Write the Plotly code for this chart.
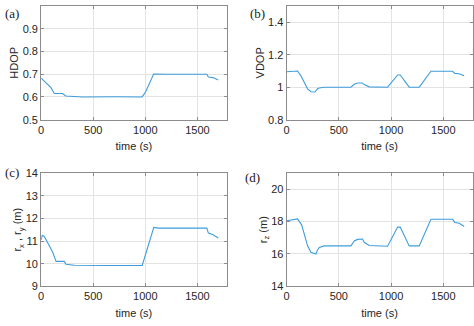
import plotly.graph_objects as go
from plotly.subplots import make_subplots

# (a) HDOP
t_a = [0, 20, 46, 94, 126, 205, 237, 300, 400, 700, 968, 1000, 1080, 1200, 1590, 1605, 1650, 1700]
hdop = [0.683, 0.675, 0.662, 0.641, 0.615, 0.615, 0.604, 0.602, 0.600, 0.601, 0.600, 0.620, 0.701, 0.700, 0.700, 0.688, 0.685, 0.675]

# (b) VDOP
t_b = [0, 89, 105, 137, 169, 201, 233, 271, 297, 313, 360, 616, 648, 680, 727, 743, 791, 967, 1063, 1088, 1174, 1270, 1382, 1509, 1589, 1611, 1653, 1700]
vdop = [1.095, 1.098, 1.100, 1.070, 1.026, 0.990, 0.972, 0.970, 0.990, 0.995, 1.000, 1.000, 1.018, 1.026, 1.026, 1.016, 1.002, 1.000, 1.075, 1.075, 1.000, 1.000, 1.098, 1.100, 1.098, 1.085, 1.083, 1.070]

# (c) r_x, r_y
t_c = [0, 10, 30, 80, 111, 143, 222, 238, 318, 600, 970, 1081, 1129, 1590, 1605, 1650, 1700]
rxy = [11.05, 11.25, 11.2, 10.8, 10.5, 10.1, 10.1, 9.97, 9.93, 9.92, 9.92, 11.6, 11.57, 11.57, 11.35, 11.28, 11.13]

# (d) r_z
t_d = [0, 89, 105, 144, 169, 201, 233, 265, 281, 297, 313, 360, 616, 648, 680, 727, 743, 791, 967, 1063, 1088, 1174, 1270, 1382, 1589, 1611, 1653, 1700]
rz = [18.05, 18.15, 18.17, 17.8, 17.2, 16.5, 16.1, 16.0, 16.0, 16.25, 16.4, 16.5, 16.5, 16.8, 16.9, 16.92, 16.72, 16.52, 16.48, 17.66, 17.66, 16.5, 16.5, 18.15, 18.15, 17.95, 17.9, 17.7]

panel_labels = ["(a)", "(b)", "(c)", "(d)"]
y_titles = ["HDOP", "VDOP", "r<sub>x</sub> , r<sub>y</sub> (m)", "r<sub>z</sub> (m)"]
x_title = "time (s)"

W, H = 474, 326
LINE = "#3f9ddb"
FONT = "Arial, Liberation Sans, sans-serif"

fig = make_subplots(rows=2, cols=2)
series = [(t_a, hdop), (t_b, vdop), (t_c, rxy), (t_d, rz)]
pos = [(1, 1), (1, 2), (2, 1), (2, 2)]
for (tx, ty), (r, c) in zip(series, pos):
    fig.add_trace(go.Scatter(x=tx, y=ty, mode="lines", line=dict(color=LINE, width=1.1),
                             showlegend=False), row=r, col=c)

xdom_l = [38.5 / W, 225.5 / W]
xdom_r = [286 / W, 473.5 / W]
ydom_t = [1 - 118 / H, 1.0]
ydom_b = [1 - 291 / H, 1 - 173.5 / H]

axis_common = dict(
    showline=True, linecolor="#8c8c8c", linewidth=1, mirror="ticks",
    ticks="inside", ticklen=3, tickcolor="#8c8c8c",
    showgrid=True, gridcolor="#e3e3e3", gridwidth=1, zeroline=False,
    tickfont=dict(family=FONT, size=11, color="#262626"),
)

xdoms = [xdom_l, xdom_r, xdom_l, xdom_r]
ydoms = [ydom_t, ydom_t, ydom_b, ydom_b]
yranges = [[0.5, 1.0], [0.8, 1.5], [9, 14], [14, 21]]
ytickvals = [[0.5, 0.6, 0.7, 0.8, 0.9], [0.8, 1.0, 1.2, 1.4], [9, 10, 11, 12, 13, 14], [14, 16, 18, 20]]
yticktext = [["0.5", "0.6", "0.7", "0.8", "0.9"], ["0.8", "1", "1.2", "1.4"], ["9", "10", "11", "12", "13", "14"], ["14", "16", "18", "20"]]

for i in range(4):
    xa = "xaxis" if i == 0 else f"xaxis{i+1}"
    ya = "yaxis" if i == 0 else f"yaxis{i+1}"
    fig.layout[xa].update(domain=xdoms[i], range=[0, 1780], tickvals=[0, 500, 1000, 1500],
                          title=dict(text=x_title, font=dict(family=FONT, size=11, color="#262626"), standoff=7),
                          **axis_common)
    fig.layout[ya].update(domain=ydoms[i], range=yranges[i], tickvals=ytickvals[i], ticktext=yticktext[i],
                          title=dict(text=y_titles[i], font=dict(family=FONT, size=11, color="#262626"), standoff=1),
                          **axis_common)

label_pos = [(0, 8), (247, 8), (0, 173), (242, 178)]
for lab, (px, py) in zip(panel_labels, label_pos):
    fig.add_annotation(text=lab, xref="paper", yref="paper", x=px / W, y=1 - py / H,
                       xanchor="left", yanchor="middle", showarrow=False,
                       font=dict(family="Liberation Serif, Times New Roman, serif", size=13, color="#1a1a1a"))

fig.update_layout(width=W, height=H, margin=dict(l=0, r=0, t=0, b=0),
                  paper_bgcolor="white", plot_bgcolor="white")
fig.write_html("out.html")
